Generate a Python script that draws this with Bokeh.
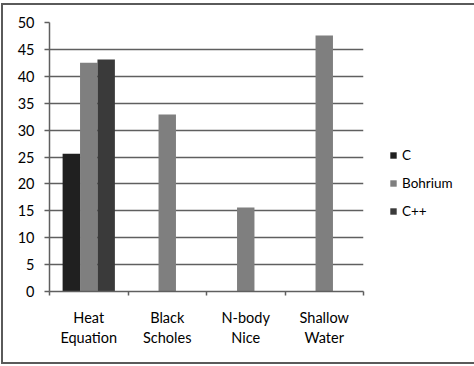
from bokeh.plotting import figure
from bokeh.models import (ColumnDataSource, Range1d, FixedTicker, Legend, LegendItem, LinearAxis)
from bokeh.embed import file_html
from bokeh.resources import INLINE

categories = ["Heat\nEquation", "Black\nScholes", "N-body\nNice", "Shallow\nWater"]
series = ["C", "Bohrium", "C++"]
c_vals = [25.6, float("nan"), float("nan"), float("nan")]
bohrium_vals = [42.5, 32.9, 15.6, 47.6]
cpp_vals = [43.1, float("nan"), float("nan"), float("nan")]
y_ticks = [0, 5, 10, 15, 20, 25, 30, 35, 40, 45, 50]

colors = ["#202020", "#7f7f7f", "#3a3a3a"]
FONT = "Lato"

n = len(categories)
centers = [i + 0.5 for i in range(n)]
bar_w = 0.222
offsets = [-bar_w, 0.0, bar_w]

p = figure(frame_width=314, frame_height=269, width=467, height=357,
           x_range=Range1d(0, n), y_range=Range1d(0, 50),
           output_backend="svg", toolbar_location=None,
           min_border_left=46, min_border_right=107, min_border_top=17, min_border_bottom=71,
           x_axis_type=None)
p.styles = {"border": "2px solid #5a5a5a", "margin": "3px 0 0 1px"}
p.outline_line_color = None
p.background_fill_color = "white"
p.border_fill_color = "white"

renderers = []
for vals, off, col, name in zip([c_vals, bohrium_vals, cpp_vals], offsets, colors, series):
    src = ColumnDataSource(dict(x=[c + off for c in centers], top=vals))
    r = p.vbar(x="x", top="top", bottom=0, width=bar_w, source=src,
               fill_color=col, line_color=None)
    renderers.append((name, r))

# grid
p.xgrid.grid_line_color = None
p.ygrid.ticker = FixedTicker(ticks=y_ticks)
p.ygrid.grid_line_color = "#5f5f5f"
p.ygrid.grid_line_width = 1.5

# y axis
ya = p.yaxis[0]
ya.ticker = FixedTicker(ticks=y_ticks)
ya.axis_line_color = "#5f5f5f"
ya.axis_line_width = 1.5
ya.major_tick_line_color = "#5f5f5f"
ya.major_tick_line_width = 1.5
ya.major_tick_out = 5
ya.major_tick_in = 0
ya.minor_tick_line_color = None
ya.major_label_standoff = 10
ya.major_label_text_font = FONT
ya.major_label_text_font_size = "14.5px"
ya.major_label_text_color = "black"

# x axis: labels at centers, ticks at category boundaries
xa = LinearAxis(ticker=FixedTicker(ticks=centers, minor_ticks=list(range(n + 1))))
xa.major_label_overrides = {c: lab for c, lab in zip(centers, categories)}
xa.axis_line_color = "#5f5f5f"
xa.axis_line_width = 1.5
xa.major_tick_line_color = None
xa.major_tick_out = 0
xa.major_tick_in = 0
xa.minor_tick_line_color = "#5f5f5f"
xa.minor_tick_line_width = 1.5
xa.minor_tick_out = 4
xa.minor_tick_in = 0
xa.major_label_standoff = 13
xa.major_label_text_font = FONT
xa.major_label_text_font_size = "14.5px"
xa.major_label_text_color = "black"
p.add_layout(xa, "below")

legend = Legend(items=[LegendItem(label=name, renderers=[r]) for name, r in renderers],
                location=(26, 70), orientation="vertical",
                glyph_width=8, glyph_height=8, label_height=20, spacing=8,
                label_standoff=5, padding=0, margin=0,
                border_line_color=None, background_fill_alpha=0,
                label_text_font=FONT, label_text_font_size="13.5px", label_text_color="black")
p.add_layout(legend, "right")

open("out.html", "w").write(file_html(p, INLINE))
